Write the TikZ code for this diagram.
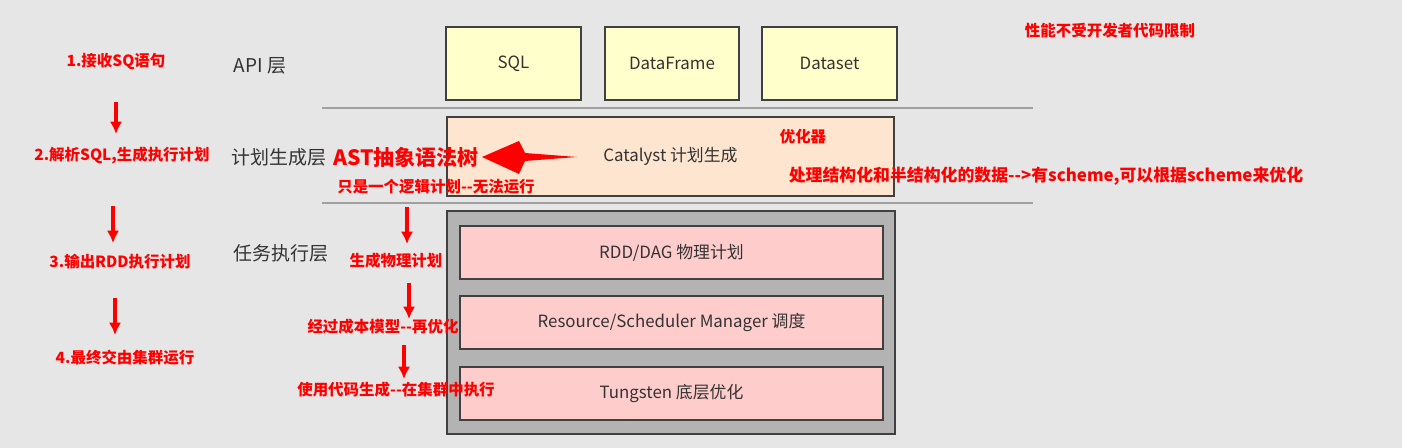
\documentclass[tikz,border=0pt]{standalone}
\usepackage{fontspec}
\setmainfont{Noto Sans CJK SC}
\usepackage{xcolor}
\usetikzlibrary{arrows.meta}
\definecolor{sparkbg}{RGB}{230,230,230}
\definecolor{apiyellow}{RGB}{255,255,204}
\definecolor{planpeach}{RGB}{253,229,208}
\definecolor{taskpink}{RGB}{255,204,204}
\definecolor{taskgray}{RGB}{179,179,179}
\definecolor{edgedark}{RGB}{64,64,64}
\definecolor{rulegray}{RGB}{160,160,160}
\definecolor{notered}{RGB}{255,0,0}
\definecolor{layertext}{RGB}{51,51,51}
\begin{document}
\begin{tikzpicture}[x=0.02cm, y=-0.02cm,
    box/.style={draw=edgedark, line width=1.2pt, font=\fontsize{9.6}{11}\selectfont, text=layertext},
    layer/.style={font=\fontsize{10.8}{12}\selectfont, text=layertext},
    note/.style={text=notered, font=\bfseries\fontsize{8.8}{10}\selectfont},
    down/.style={notered, line width=2pt, -{Latex[length=7pt,width=7pt]}}]
    % Background
    \fill[sparkbg] (0,0) rectangle (1402,448);

    % API layer
    \node[box, fill=apiyellow, minimum width=135*0.567pt, minimum height=73*0.567pt] (sql) at (513.5,63.5) {SQL};
    \node[box, fill=apiyellow, minimum width=134*0.567pt, minimum height=73*0.567pt] (df) at (672,63.5) {DataFrame};
    \node[box, fill=apiyellow, minimum width=135*0.567pt, minimum height=73*0.567pt] (ds) at (829.5,63.5) {Dataset};
    \draw[rulegray, line width=1.2pt] (322,108) -- (1033,108);

    % Plan layer
    \node[box, fill=planpeach, minimum width=449*0.567pt, minimum height=79*0.567pt] (cat) at (670.5,156.5) {Catalyst 计划生成};
    \draw[rulegray, line width=1.2pt] (322,203) -- (1033,203);

    % Execution layer
    \node[box, fill=taskgray, minimum width=450*0.567pt, minimum height=223*0.567pt] (exec) at (671,322.5) {};
    \node[box, fill=taskpink, minimum width=425*0.567pt, minimum height=53*0.567pt] (rdd) at (671.5,252.5) {RDD/DAG 物理计划};
    \node[box, fill=taskpink, minimum width=425*0.567pt, minimum height=53*0.567pt] (sched) at (671.5,322.5) {Resource/Scheduler Manager 调度};
    \node[box, fill=taskpink, minimum width=425*0.567pt, minimum height=53*0.567pt] (tung) at (671.5,393.5) {Tungsten 底层优化};

    % Layer names
    \node[layer] (apiname) at (260,66) {API 层};
    \node[layer] (planname) at (279,157) {计划生成层};
    \node[layer] (execname) at (281,253) {任务执行层};

    % Steps on the left
    \node[note] (s1) at (116,62) {1.接收SQ语句};
    \node[note] (s2) at (122,156) {2.解析SQL,生成执行计划};
    \node[note] (s3) at (120,262) {3.输出RDD执行计划};
    \node[note] (s4) at (125,358) {4.最终交由集群运行};
    \coordinate (a1) at (116,102); \coordinate (b1) at (116,134);
    \coordinate (a2) at (113,206); \coordinate (b2) at (113,243);
    \coordinate (a3) at (115,298); \coordinate (b3) at (115,335);
    \draw[down] (a1) -- (b1);
    \draw[down] (a2) -- (b2);
    \draw[down] (a3) -- (b3);

    % Notes near the layers
    \node[note, font=\bfseries\fontsize{12}{13}\selectfont] (ast) at (406,157) {AST抽象语法树};
    \node[note] (logic) at (436,187) {只是一个逻辑计划-{}-无法运行};
    \node[note] (phys) at (396,261) {生成物理计划};
    \node[note] (cost) at (383,327) {经过成本模型-{}-再优化};
    \node[note] (gen) at (396,390) {使用代码生成-{}-在集群中执行};
    \node[note] (perf) at (1110,31) {性能不受开发者代码限制};
    \node[note] (opt) at (803,137) {优化器};
    \node[note, font=\bfseries\fontsize{9.6}{11}\selectfont] (semi) at (1046,176) {处理结构化和半结构化的数据-{}->有scheme,可以根据scheme来优化};
    \coordinate (a4) at (407,207); \coordinate (b4) at (407,244);
    \coordinate (a5) at (409,283); \coordinate (b5) at (409,319);
    \coordinate (a6) at (404,345); \coordinate (b6) at (404,379);
    \draw[down] (a4) -- (b4);
    \draw[down] (a5) -- (b5);
    \draw[down] (a6) -- (b6);

    % Big arrow into the tree label
    \fill[notered] (577,157) -- (525,153) -- (519,141) -- (482,157) -- (519,174) -- (525,161) -- cycle;
\end{tikzpicture}
\end{document}
